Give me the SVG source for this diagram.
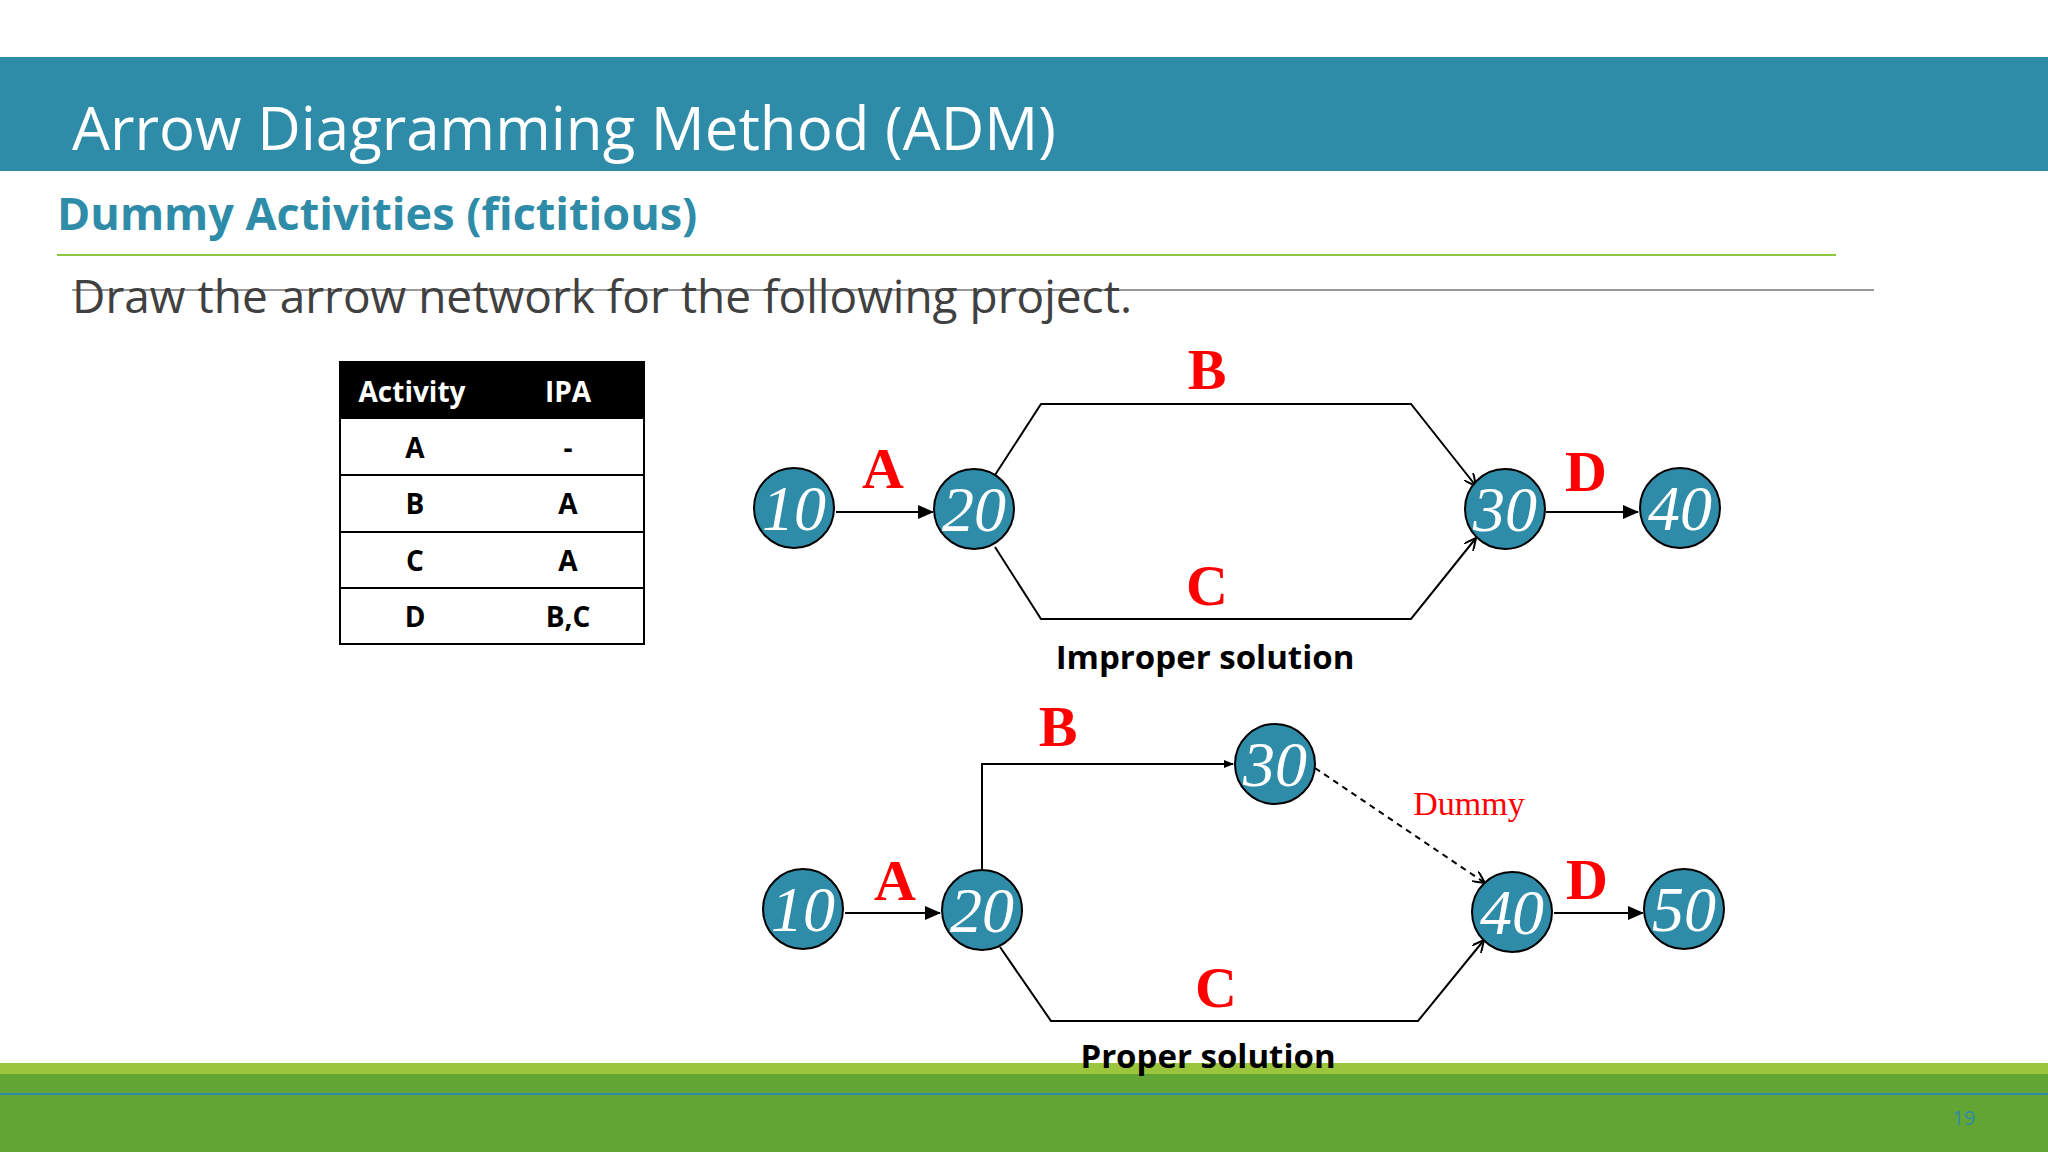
<svg xmlns="http://www.w3.org/2000/svg" width="2048" height="1152" viewBox="0 0 2048 1152">
<style>
.n circle{fill:#2F8CA8;stroke:#000;stroke-width:2}
.n text{font-family:"Liberation Serif",serif;font-style:italic;font-size:64px;fill:#fff;text-anchor:middle}
.lbl{font-family:"Liberation Serif",serif;font-weight:bold;font-size:58px;fill:#f00;text-anchor:middle}
.cap{font-family:"Open Sans","Liberation Sans",sans-serif;font-weight:bold;font-size:33px;fill:#000;text-anchor:middle}
.tb{font-family:"Open Sans","Liberation Sans",sans-serif;font-weight:bold;font-size:28px;text-anchor:middle}
.c{fill:none;stroke:#000;stroke-width:2}
</style>
<defs>
<marker id="ah" markerWidth="10" markerHeight="8" refX="9" refY="4" orient="auto" markerUnits="userSpaceOnUse"><path d="M0,0 L10,4 L0,8 z" fill="#000"/></marker>
<marker id="ao" markerWidth="14" markerHeight="12" refX="12" refY="6" orient="auto" markerUnits="userSpaceOnUse"><path d="M0,0 L12,6 L0,12" fill="none" stroke="#000" stroke-width="2"/></marker>
<marker id="ab" markerWidth="16" markerHeight="14" refX="15" refY="7" orient="auto" markerUnits="userSpaceOnUse"><path d="M0,0 L16,7 L0,14 z" fill="#000"/></marker>
</defs>
<rect width="2048" height="1152" fill="#fff"/>
<rect x="0" y="57" width="2048" height="114" fill="#2F8CA8"/>
<text x="72" y="150" font-family="Open Sans,Liberation Sans,sans-serif" font-size="60" fill="#fff">Arrow Diagramming Method (ADM)</text>
<text x="57" y="230" font-family="Open Sans,Liberation Sans,sans-serif" font-weight="bold" font-size="45" fill="#2F8CA8">Dummy Activities (fictitious)</text>
<line x1="57" y1="255" x2="1836" y2="255" stroke="#8DC63F" stroke-width="2"/>
<line x1="72" y1="290" x2="1874" y2="290" stroke="#999" stroke-width="2"/>
<text x="72" y="313" font-family="Open Sans,Liberation Sans,sans-serif" font-size="46" fill="#404040">Draw the arrow network for the following project.</text>
<g id="table">
<rect x="340" y="362" width="304" height="57" fill="#000"/>
<rect x="340" y="362" width="304" height="282" fill="none" stroke="#000" stroke-width="2"/>
<g stroke="#000" stroke-width="2"><line x1="340" y1="475" x2="644" y2="475"/><line x1="340" y1="532" x2="644" y2="532"/><line x1="340" y1="588" x2="644" y2="588"/></g>
<text class="tb" x="412" y="402" fill="#fff">Activity</text><text class="tb" x="568" y="402" fill="#fff">IPA</text>
<text class="tb" x="415" y="458">A</text><text class="tb" x="568" y="458">-</text>
<text class="tb" x="415" y="514">B</text><text class="tb" x="568" y="514">A</text>
<text class="tb" x="415" y="571">C</text><text class="tb" x="568" y="571">A</text>
<text class="tb" x="415" y="627">D</text><text class="tb" x="568" y="627">B,C</text>
</g>
<g id="connectors">
<line class="c" x1="836" y1="512" x2="933" y2="512" stroke-width="3" marker-end="url(#ab)"/>
<polyline class="c" points="995,475 1041,404 1411,404 1476,486" marker-end="url(#ao)"/>
<polyline class="c" points="995,547 1041,619 1411,619 1476,538" marker-end="url(#ao)"/>
<line class="c" x1="1546" y1="512" x2="1638" y2="512" stroke-width="3" marker-end="url(#ab)"/>
<line class="c" x1="845" y1="913" x2="940" y2="913" stroke-width="3" marker-end="url(#ab)"/>
<polyline class="c" points="982,870 982,764 1233,764" marker-end="url(#ah)"/>
<polyline class="c" points="1000,947 1051,1021 1418,1021 1484,940" marker-end="url(#ao)"/>
<line class="c" x1="1315" y1="768" x2="1485" y2="883" stroke-dasharray="6,5" marker-end="url(#ao)"/>
<line class="c" x1="1554" y1="913" x2="1643" y2="913" stroke-width="3" marker-end="url(#ab)"/>
</g>
<text class="lbl" x="883" y="488">A</text>
<text class="lbl" x="1207" y="389">B</text>
<text class="lbl" x="1207" y="605">C</text>
<text class="lbl" x="1586" y="491">D</text>
<text class="lbl" x="895" y="900">A</text>
<text class="lbl" x="1058" y="746">B</text>
<text class="lbl" x="1216" y="1007">C</text>
<text class="lbl" x="1587" y="899">D</text>
<text x="1469" y="815" font-family="Liberation Serif,serif" font-size="34" fill="#f00" text-anchor="middle">Dummy</text>
<g id="t10" class="n"><circle cx="794" cy="508" r="40"/><text x="794" y="530">10</text></g>
<g id="t20" class="n"><circle cx="974" cy="509" r="40"/><text x="974" y="531">20</text></g>
<g id="t30" class="n"><circle cx="1505" cy="509" r="40"/><text x="1505" y="531">30</text></g>
<g id="t40" class="n"><circle cx="1680" cy="508" r="40"/><text x="1680" y="530">40</text></g>
<g id="b10" class="n"><circle cx="803" cy="909" r="40"/><text x="803" y="931">10</text></g>
<g id="b20" class="n"><circle cx="982" cy="910" r="40"/><text x="982" y="932">20</text></g>
<g id="b30" class="n"><circle cx="1275" cy="764" r="40"/><text x="1275" y="786">30</text></g>
<g id="b40" class="n"><circle cx="1512" cy="912" r="40"/><text x="1512" y="934">40</text></g>
<g id="b50" class="n"><circle cx="1684" cy="909" r="40"/><text x="1684" y="931">50</text></g>
<text class="cap" x="1205" y="669">Improper solution</text>
<rect x="0" y="1063" width="2048" height="11" fill="#9BC53D"/>
<rect x="0" y="1074" width="2048" height="78" fill="#63A535"/>
<line x1="0" y1="1094" x2="2048" y2="1094" stroke="#2F8CA8" stroke-width="2"/>
<text class="cap" x="1208" y="1068">Proper solution</text>
<text x="1964" y="1125" font-family="Open Sans,Liberation Sans,sans-serif" font-size="20" fill="#2F8CA8" text-anchor="middle">19</text>
</svg>
